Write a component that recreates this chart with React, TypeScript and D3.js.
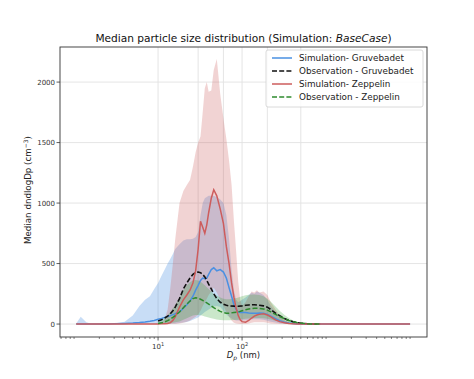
import React from "react";
import * as d3 from "d3";

// ---------- data (diameters in nm, values in cm^-3) ----------
const simDiameters = [1.06, 1.2, 1.4, 1.6, 2, 2.5, 3, 4, 5, 6, 7, 8, 9, 10, 11, 12, 13, 14, 15, 16, 18, 20, 22, 24, 26, 28, 30, 32, 34, 36, 38, 40, 43, 46, 50, 55, 60, 65, 70, 75, 80, 85, 90, 95, 100, 110, 120, 130, 140, 150, 160, 180, 200, 220, 250, 280, 320, 360, 400, 450, 500, 600, 700, 800, 1000, 1500, 2000, 3000, 5000, 7000, 10000];

const simGruveMedian = [0, 0, 0, 0, 0, 1, 2, 5, 8, 12, 17, 23, 30, 40, 47, 55, 62, 70, 78, 85, 100, 130, 160, 190, 230, 280, 320, 360, 380, 375, 380, 410, 450, 465, 440, 450, 430, 380, 300, 230, 160, 120, 100, 95, 95, 95, 92, 90, 90, 90, 92, 90, 80, 65, 45, 28, 15, 8, 4, 2, 0, 0, 0, 0, 0, 0, 0, 0, 0, 0, 0];
const simGruveHigh = [5, 60, 15, 3, 2, 3, 5, 20, 70, 150, 200, 230, 290, 340, 400, 450, 500, 540, 580, 620, 660, 690, 700, 700, 705, 720, 760, 900, 1000, 1040, 1050, 1060, 1060, 1060, 1050, 1030, 1000, 900, 700, 450, 280, 200, 180, 190, 200, 220, 240, 260, 250, 270, 260, 240, 200, 150, 100, 60, 30, 15, 8, 4, 2, 0, 0, 0, 0, 0, 0, 0, 0, 0, 0];
const simGruveLow = [0, 0, 0, 0, 0, 0, 0, 0, 0, 0, 0, 0, 0, 0, 0, 1, 2, 3, 4, 5, 8, 12, 18, 25, 35, 45, 55, 70, 85, 100, 110, 120, 135, 145, 150, 140, 110, 80, 60, 45, 35, 30, 30, 30, 30, 32, 35, 38, 40, 40, 40, 35, 28, 20, 12, 6, 3, 1, 0, 0, 0, 0, 0, 0, 0, 0, 0, 0, 0, 0, 0];

const simZepMedian = [0, 0, 0, 0, 0, 0, 0, 0, 0, 0, 0, 0, 0, 1, 2, 3, 5, 12, 30, 60, 140, 200, 240, 280, 340, 440, 620, 850, 800, 750, 820, 920, 1040, 1110, 1060, 950, 830, 640, 500, 340, 220, 130, 70, 35, 20, 15, 30, 50, 65, 75, 80, 85, 75, 60, 35, 20, 10, 5, 2, 1, 0, 0, 0, 0, 0, 0, 0, 0, 0, 0, 0];
const simZepHigh = [0, 0, 0, 0, 0, 0, 0, 0, 0, 0, 0, 0, 1, 3, 8, 40, 120, 300, 500, 700, 1000, 1100, 1150, 1190, 1300, 1420, 1500, 1550, 1750, 1950, 2000, 1920, 1930, 2100, 2190, 1900, 1700, 1530, 1350, 1150, 850, 600, 350, 200, 150, 180, 230, 270, 260, 280, 260, 270, 240, 180, 120, 70, 35, 15, 8, 4, 2, 0, 0, 0, 0, 0, 0, 0, 0, 0, 0];
const simZepLow = [0, 0, 0, 0, 0, 0, 0, 0, 0, 0, 0, 0, 0, 0, 0, 0, 0, 0, 0, 0, 5, 10, 20, 30, 45, 60, 80, 110, 150, 180, 210, 240, 270, 300, 260, 200, 150, 100, 60, 30, 10, 5, 2, 0, 0, 0, 5, 10, 15, 15, 15, 15, 10, 5, 2, 0, 0, 0, 0, 0, 0, 0, 0, 0, 0, 0, 0, 0, 0, 0, 0];

const obsDiameters = [10, 11, 12, 13, 14, 15, 16, 18, 20, 22, 24, 26, 28, 30, 32, 34, 36, 38, 40, 43, 46, 50, 55, 60, 65, 70, 80, 90, 100, 110, 120, 140, 160, 180, 200, 220, 250, 280, 320, 360, 400, 450, 500, 600, 700, 850];

const obsGruveMedian = [25, 35, 50, 65, 85, 110, 140, 210, 290, 340, 380, 410, 425, 430, 425, 410, 390, 360, 330, 290, 250, 210, 180, 165, 155, 150, 148, 147, 150, 155, 158, 160, 155, 150, 140, 120, 90, 70, 45, 30, 20, 12, 7, 3, 1, 0];

const obsZepMedian = [5, 10, 18, 28, 40, 55, 70, 100, 135, 165, 190, 210, 218, 215, 205, 195, 185, 175, 165, 150, 135, 120, 105, 95, 90, 90, 95, 100, 110, 118, 125, 130, 130, 125, 115, 100, 80, 62, 45, 30, 20, 13, 8, 3, 1, 0];
const obsZepHigh = [15, 30, 50, 75, 100, 130, 160, 220, 280, 320, 345, 360, 365, 360, 350, 335, 320, 305, 290, 270, 250, 235, 220, 210, 205, 205, 210, 220, 230, 238, 242, 245, 240, 230, 210, 185, 145, 110, 75, 50, 32, 20, 12, 5, 2, 0];
const obsZepLow = [0, 0, 2, 4, 7, 10, 14, 22, 35, 48, 60, 70, 75, 75, 72, 68, 63, 58, 54, 48, 43, 38, 34, 32, 31, 31, 33, 36, 40, 43, 46, 50, 50, 48, 44, 38, 28, 20, 12, 7, 4, 2, 1, 0, 0, 0];

const yTicks = [0, 500, 1000, 1500, 2000];
const xMajorTicks = [10, 100];
const xMajorExponents = ["1", "2"];
const xGridValues = [10, 30, 60, 100, 200, 500];
const legendLabels = ["Simulation- Gruvebadet", "Observation - Gruvebadet", "Simulation- Zeppelin", "Observation - Zeppelin"];

const W = 474;
const H = 379;
const left = 60, right = 427, top = 47, bottom = 337;

export default function App() {
  const x = d3.scaleLog().domain([0.68, 15900]).range([left, right]);
  const y = d3.scaleLinear().domain([-107, 2290]).range([bottom, top]);

  const mkLine = (xs: number[], ys: number[]) =>
    d3.line<number>().x((_, i) => x(xs[i])).y((d) => y(d))(ys) as string;
  const mkArea = (xs: number[], lo: number[], hi: number[]) =>
    d3
      .area<number>()
      .x((_, i) => x(xs[i]))
      .y0((_, i) => y(lo[i]))
      .y1((d) => y(d))(hi) as string;

  const minorTicks: number[] = [];
  for (let e = -1; e <= 4; e++) {
    for (let k = 1; k <= 9; k++) {
      const v = k * Math.pow(10, e);
      if (v >= 0.68 && v <= 15900 && !xMajorTicks.includes(v)) minorTicks.push(v);
    }
  }

  const font = "DejaVu Sans, sans-serif";
  const axisColor = "#333";

  const series = [
    { color: "#4a90e2", dash: "" },
    { color: "#111", dash: "5,2.2" },
    { color: "#cd5c5c", dash: "" },
    { color: "#2e8b2e", dash: "5,2.2" },
  ];

  return (
    <svg
      width={W}
      height={H}
      style={{ position: "absolute", left: 0, top: 0, background: "#fff" }}
      fontFamily={font}
    >
      <rect x={0} y={0} width={W} height={H} fill="#fff" />
      {/* grid */}
      {yTicks.map((t) => (
        <line key={"gy" + t} x1={left} x2={right} y1={y(t)} y2={y(t)} stroke="#e2e2e2" strokeWidth={0.9} />
      ))}
      {xGridValues.map((t) => (
        <line key={"gx" + t} x1={x(t)} x2={x(t)} y1={top} y2={bottom} stroke="#e2e2e2" strokeWidth={0.9} />
      ))}

      {/* bands */}
      <path d={mkArea(simDiameters, simGruveLow, simGruveHigh)} fill="#4a90e2" fillOpacity={0.3} />
      <path d={mkArea(simDiameters, simZepLow, simZepHigh)} fill="#cd5c5c" fillOpacity={0.27} />
      <path d={mkArea(obsDiameters, obsZepLow, obsZepHigh)} fill="#2ca02c" fillOpacity={0.25} />

      {/* lines */}
      <path d={mkLine(simDiameters, simGruveMedian)} fill="none" stroke={series[0].color} strokeWidth={1.5} />
      <path d={mkLine(obsDiameters, obsGruveMedian)} fill="none" stroke={series[1].color} strokeWidth={1.6} strokeDasharray={series[1].dash} />
      <path d={mkLine(simDiameters, simZepMedian)} fill="none" stroke={series[2].color} strokeWidth={1.5} />
      <path d={mkLine(obsDiameters, obsZepMedian)} fill="none" stroke={series[3].color} strokeWidth={1.5} strokeDasharray={series[3].dash} />

      {/* spines */}
      <rect x={left} y={top} width={right - left} height={bottom - top} fill="none" stroke={axisColor} strokeWidth={0.9} />

      {/* y ticks */}
      {yTicks.map((t) => (
        <g key={"yt" + t}>
          <line x1={left - 3.5} x2={left} y1={y(t)} y2={y(t)} stroke={axisColor} strokeWidth={0.8} />
          <text x={left - 5} y={y(t)} dy="0.35em" textAnchor="end" fontSize={7} fill="#333">
            {t}
          </text>
        </g>
      ))}

      {/* x ticks */}
      {minorTicks.map((t) => (
        <line key={"mx" + t} x1={x(t)} x2={x(t)} y1={bottom} y2={bottom + 2} stroke={axisColor} strokeWidth={0.6} />
      ))}
      {xMajorTicks.map((t, i) => (
        <g key={"xt" + t}>
          <line x1={x(t)} x2={x(t)} y1={bottom} y2={bottom + 3.5} stroke={axisColor} strokeWidth={0.8} />
          <text x={x(t)} y={bottom + 11.5} textAnchor="middle" fontSize={7} fill="#333">
            10
            <tspan dy={-3} fontSize={5}>
              {xMajorExponents[i]}
            </tspan>
          </text>
        </g>
      ))}

      {/* axis labels */}
      <text x={(left + right) / 2} y={358} textAnchor="middle" fontSize={8.5} fill="#222">
        <tspan fontStyle="italic">D</tspan>
        <tspan fontStyle="italic" fontSize={6} dy={2}>
          p
        </tspan>
        <tspan dy={-2}> (nm)</tspan>
      </text>
      <text
        transform={`translate(31, ${(top + bottom) / 2 - 2}) rotate(-90)`}
        textAnchor="middle"
        fontSize={8.7}
        fill="#222"
      >
        Median dndlogDp (cm
        <tspan dy={-3} fontSize={6}>
          −3
        </tspan>
        <tspan dy={3}>)</tspan>
      </text>

      {/* title */}
      <text x={(left + right) / 2} y={42} textAnchor="middle" fontSize={10.6} fill="#111">
        Median particle size distribution (Simulation: <tspan fontStyle="italic">BaseCase</tspan>)
      </text>

      {/* legend */}
      <rect x={266} y={50} width={157} height={57} rx={2} fill="#fff" fillOpacity={0.85} stroke="#d0d0d0" strokeWidth={0.8} />
      {legendLabels.map((lab, i) => {
        const ly = 58 + i * 13;
        return (
          <g key={lab}>
            <line
              x1={272}
              x2={292}
              y1={ly}
              y2={ly}
              stroke={series[i].color}
              strokeWidth={1.5}
              strokeDasharray={series[i].dash}
            />
            <text x={299} y={ly} dy="0.35em" fontSize={8.8} fill="#222">
              {lab}
            </text>
          </g>
        );
      })}
    </svg>
  );
}
